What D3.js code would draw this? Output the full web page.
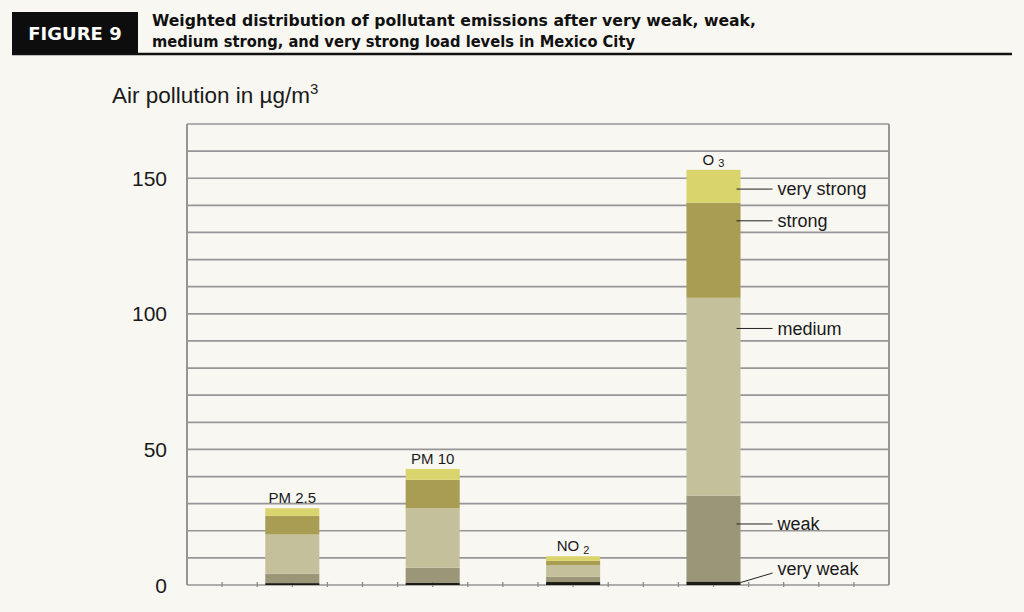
<!DOCTYPE html>
<html>
<head>
<meta charset="utf-8">
<script src="https://d3js.org/d3.v7.min.js"></script>
<style>
  html, body { margin: 0; padding: 0; background: #f8f7f2; }
  svg { display: block; }
  .tick-label { font-family: "Liberation Sans", Arial, sans-serif; font-size: 21px; fill: #1a1a1a; }
  .cat-label { font-family: "Liberation Sans", Arial, sans-serif; font-size: 15px; fill: #1a1a1a; }
  .level-label { font-family: "Liberation Sans", Arial, sans-serif; font-size: 18px; fill: #1a1a1a; }
</style>
</head>
<body>
<div id="chart"></div>
<script>
// pollutants, and the weighted load levels stacked in each bar (µg/m3)
var pollutants = ["PM 2.5", "PM 10", "NO2", "O3"];
var levels = ["very weak", "weak", "medium", "strong", "very strong"];

var veryWeak   = [0.7, 0.9, 1.1, 1.3];
var weak       = [3.5, 5.5, 1.9, 31.7];
var medium     = [14.4, 21.9, 4.3, 72.9];
var strong     = [6.9, 10.5, 1.6, 35.1];
var veryStrong = [2.8, 4.0, 1.7, 12.1];

var yTicks = [0, 50, 100, 150];
// where the level labels point to on the O3 bar
var labelValues = [4.4, 22.5, 94.6, 134.3, 146.0];

var levelColors = ["#1d1c14", "#9b9678", "#c5c09c", "#a89d53", "#d9d46c"];

var width = 1024, height = 612;
var svg = d3.select("#chart").append("svg")
  .attr("width", width)
  .attr("height", height);

svg.append("rect").attr("width", width).attr("height", height).attr("fill", "#f8f7f2");

// ---- header
svg.append("rect")
  .attr("x", 12).attr("y", 12).attr("width", 126).attr("height", 43)
  .attr("fill", "#0d0d0d");
svg.append("line")
  .attr("x1", 12).attr("x2", 1012).attr("y1", 54).attr("y2", 54)
  .attr("stroke", "#111").attr("stroke-width", 2.5);
svg.append("text")
  .attr("x", 75).attr("y", 40)
  .attr("text-anchor", "middle")
  .style("font-family", "'DejaVu Sans', sans-serif")
  .style("font-weight", "bold")
  .style("font-size", "18px")
  .attr("fill", "#fff")
  .text("FIGURE 9");
var title = svg.append("text")
  .style("font-family", "'DejaVu Sans', sans-serif")
  .style("font-weight", "bold")
  .style("font-size", "15px")
  .attr("fill", "#111");
title.append("tspan").attr("x", 152).attr("y", 26)
  .attr("textLength", 604).attr("lengthAdjust", "spacingAndGlyphs")
  .text("Weighted distribution of pollutant emissions after very weak, weak,");
title.append("tspan").attr("x", 152).attr("y", 47)
  .attr("textLength", 483).attr("lengthAdjust", "spacingAndGlyphs")
  .text("medium strong, and very strong load levels in Mexico City");

// ---- plot area
var plot = { left: 187, right: 889, top: 124, bottom: 585 };

var y = d3.scaleLinear().domain([0, 170]).range([plot.bottom, plot.top]);
// the frame is split into 20 tick intervals; bars sit at 3, 7, 11, 15
var xUnits = d3.scaleLinear().domain([0, 20]).range([plot.left, plot.right]);
var x = d3.scalePoint().domain(pollutants).range([xUnits(3), xUnits(15)]);
var barWidth = xUnits(1.54) - xUnits(0);

// horizontal grid every 10
svg.append("g")
  .selectAll("line")
  .data(d3.range(0, 171, 10))
  .enter().append("line")
    .attr("x1", plot.left).attr("x2", plot.right)
    .attr("y1", d => y(d)).attr("y2", d => y(d))
    .attr("stroke", "#969696")
    .attr("stroke-width", 1.7);

// frame sides
svg.append("line")
  .attr("x1", plot.left).attr("x2", plot.left)
  .attr("y1", plot.top).attr("y2", plot.bottom)
  .attr("stroke", "#969696").attr("stroke-width", 2);
svg.append("line")
  .attr("x1", plot.right).attr("x2", plot.right)
  .attr("y1", plot.top).attr("y2", plot.bottom)
  .attr("stroke", "#969696").attr("stroke-width", 2);

// small ticks along the bottom
svg.append("g")
  .selectAll("line")
  .data(d3.range(1, 20))
  .enter().append("line")
    .attr("x1", d => xUnits(d)).attr("x2", d => xUnits(d))
    .attr("y1", plot.bottom - 3).attr("y2", plot.bottom + 2)
    .attr("stroke", "#8a8a8a").attr("stroke-width", 1.3);

// y tick labels
svg.append("g")
  .selectAll("text")
  .data(yTicks)
  .enter().append("text")
    .attr("class", "tick-label")
    .attr("x", 167)
    .attr("y", d => y(d))
    .attr("dy", "0.36em")
    .attr("text-anchor", "end")
    .text(d => d);

// y axis title
var yTitle = svg.append("text")
  .attr("x", 112).attr("y", 103)
  .style("font-family", "'Liberation Sans', Arial, sans-serif")
  .style("font-size", "22.5px")
  .attr("fill", "#1a1a1a");
yTitle.append("tspan").text("Air pollution in µg/m");
yTitle.append("tspan").attr("dy", -9).style("font-size", "15px").text("3");

// ---- stacked bars
var table = pollutants.map(function(p, i) {
  return { pollutant: p, "very weak": veryWeak[i], weak: weak[i], medium: medium[i],
           strong: strong[i], "very strong": veryStrong[i] };
});
var series = d3.stack().keys(levels)(table);

svg.append("g")
  .selectAll("g")
  .data(series)
  .enter().append("g")
    .attr("fill", (d, i) => levelColors[i])
  .selectAll("rect")
  .data(d => d)
  .enter().append("rect")
    .attr("x", d => x(d.data.pollutant) - barWidth / 2)
    .attr("width", barWidth)
    .attr("y", d => y(d[1]))
    .attr("height", d => y(d[0]) - y(d[1]));

// pollutant labels above the bars
var totals = table.map(d => d3.sum(levels, k => d[k]));
var catGroup = svg.append("g");
pollutants.forEach(function(p, i) {
  var t = catGroup.append("text")
    .attr("class", "cat-label")
    .attr("x", x(p))
    .attr("y", y(totals[i]) - 5)
    .attr("text-anchor", "middle");
  if (p === "NO2") {
    t.append("tspan").text("NO ");
    t.append("tspan").attr("dy", 3).style("font-size", "11px").text("2");
  } else if (p === "O3") {
    t.append("tspan").text("O ");
    t.append("tspan").attr("dy", 2).style("font-size", "11px").text("3");
  } else {
    t.text(p);
  }
});

// level labels pointing at the O3 bar
var o3 = pollutants.length - 1;
var lineStart = x(pollutants[o3]) + barWidth / 2 - 4;
var textX = lineStart + 41;
levels.forEach(function(lv, i) {
  var ly = y(labelValues[i]);
  if (lv === "very weak") {
    svg.append("line")
      .attr("x1", lineStart + 4).attr("y1", y(veryWeak[o3] * 0.7))
      .attr("x2", textX - 5).attr("y2", ly)
      .attr("stroke", "#222").attr("stroke-width", 1);
    svg.append("text").attr("class", "level-label")
      .attr("x", textX).attr("y", ly + 2).text(lv);
  } else {
    svg.append("line")
      .attr("x1", lineStart).attr("x2", textX - 5)
      .attr("y1", ly).attr("y2", ly)
      .attr("stroke", "#222").attr("stroke-width", 1);
    svg.append("text").attr("class", "level-label")
      .attr("x", textX).attr("y", ly).attr("dy", "0.35em").text(lv);
  }
});
</script>
</body>
</html>
